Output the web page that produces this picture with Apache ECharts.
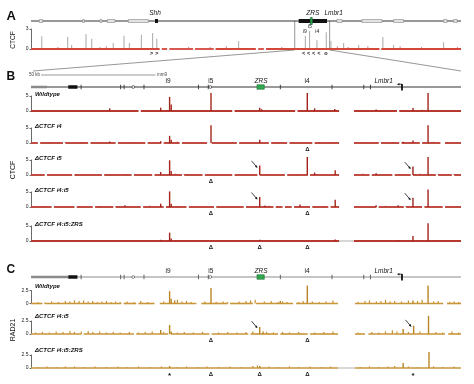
<!DOCTYPE html>
<html><head><meta charset="utf-8">
<script src="https://cdn.jsdelivr.net/npm/echarts@6.0.0/dist/echarts.min.js"></script>
<style>html,body{margin:0;padding:0;background:#fff;}#chart{width:474px;height:384px;}</style>
</head><body><div id="chart"></div>
<script>
// ================= DATA =================
// ---- Panel A : ~2.4 Mb region (kb) ----
const aRange = [0, 2400];
const aZoomWindow = [1472, 1667];
const aGeneBoxes = [[46,65],[288,298],[385,396],[426,469],[543,655],[1708,1736],[1847,1959],[2024,2080],[2303,2322],[2359,2378]];
const aShh = [[692,709]];
const aLocusBody = [[1494,1652]];
const aZrs = [[1559,1570]];
const aGeneLabels = [[692,'Shh'],[1573,'ZRS'],[1689,'Lmbr1']];
const aCtcfSegments = [[0,718],[730,760],[772,905],[915,1020],[1030,1255],[1268,1300],[1312,1945],[1955,2400]];
const aCtcfPeaks = [[60,1.9],[205,1.8],[227,0.6],[307,2.25],[339,1.55],[385,0.3],[459,0.9],[519,2.0],[549,0.9],[616,2.15],[679,2.4],[702,1.55],[1159,1.2],[1531,2.0],[1555,2.7],[1596,1.3],[1648,2.5],[1674,1.2],[1745,0.9],[1829,0.6],[1964,1.8],[2024,0.6],[2303,1.0]];
const aCtcfNoise = [[150,0.3],[420,0.4],[880,0.3],[1000,0.3],[1090,0.4],[1400,0.3],[1710,0.4],[1770,0.3],[1880,0.4],[2060,0.4],[2180,0.3],[2380,0.3]];
const aPeakLabels = [[1529,2.3,'i9'],[1556,3.05,'i5'],[1598,2.3,'i4']];
const aMotifs = [[673,'>'],[702,'>'],[1522,'<'],[1550,'<'],[1578,'<'],[1606,'<'],[1646,'o']];

// ---- Panels B / C : zoomed window (kb) ----
const bcRange = [0, 188];
const bGrayBody = [[0,7]];
const cGrayBody = [[0,16.2]];
const geneBlack = [[16.3,20.3]];
const geneTicks = [21.9,39.2,40.7,49.4,73.2,77.5,109.0,131.6,145.5,148.4];
const geneCircles = [44.7,78.4];
const zrsBox = [[98.8,102.0]];
const lmbr1Tss = [162.2];
const geneLabels = [[59.9,'i9'],[78.6,'i5'],[100.6,'ZRS'],[120.7,'i4'],[154.2,'Lmbr1']];
const scaleBar = [[4.4,54.4]]; // 50 kb

const ctcfTracks = ['Wildtype','\u0394CTCF i4','\u0394CTCF i5','\u0394CTCF i4:i5','\u0394CTCF i4:i5:ZRS'];
const ctcfPeaks = [
  [[34.4,0.9],[56.7,1.1],[60.6,4.7],[61.3,2.2],[78.7,6.0],[100.0,1.1],[100.8,0.6],[120.8,6.0],[124.0,0.9],[132.8,0.7],[150.9,0.5],[167.0,1.0],[173.6,6.0]],
  [[34.4,0.5],[56.7,0.6],[60.6,2.4],[61.3,1.1],[78.7,5.9],[100.0,1.1],[162.7,0.4],[167.0,0.8],[173.6,5.9]],
  [[56.7,1.0],[60.6,4.9],[61.3,1.3],[100.0,3.2],[120.8,6.0],[124.0,0.8],[133.0,1.6],[150.9,0.6],[167.0,2.8],[173.6,6.0]],
  [[41.1,0.6],[56.7,1.1],[60.6,5.2],[61.3,1.1],[100.0,3.3],[102.3,0.5],[117.6,0.8],[133.0,2.4],[150.9,0.6],[160.5,0.6],[167.0,3.1],[173.6,5.8]],
  [[56.7,0.4],[60.6,2.8],[61.3,0.8],[100.0,0.4],[133.0,0.5],[160.5,0.3],[167.0,1.7],[173.6,5.9]]
];
const ctcfNoise = [
  [[5,0.2],[12,0.3],[18,0.2],[24,0.3],[29,0.2],[38,0.3],[44,0.2],[50,0.3],[66,0.3],[70,0.2],[84,0.3],[90,0.2],[95,0.3],[106,0.2],[112,0.3],[128,0.2],[145,0.3],[156,0.2],[163,0.3],[171,0.4],[178,0.3],[184,0.2]],
  [[8,0.3],[15,0.2],[22,0.3],[27,0.2],[45,0.3],[52,0.2],[64,0.4],[69,0.2],[88,0.3],[96,0.2],[108,0.3],[115,0.2],[126,0.3],[131,0.3],[146,0.3],[152,0.2],[158,0.3],[176,0.4],[182,0.2]],
  [[4,0.3],[14,0.2],[20,0.3],[28,0.2],[34,0.3],[42,0.3],[48,0.2],[63,0.4],[67,0.3],[85,0.2],[92,0.3],[104,0.3],[110,0.2],[116,0.3],[128,0.2],[145,0.4],[155,0.3],[162,0.3],[170,0.4],[178,0.2],[185,0.3]],
  [[6,0.3],[13,0.2],[21,0.3],[30,0.3],[37,0.2],[47,0.3],[52,0.4],[64,0.3],[70,0.2],[88,0.2],[95,0.3],[104,0.4],[108,0.3],[124,0.2],[128,0.3],[146,0.2],[155,0.4],[164,0.3],[176,0.3],[184,0.2]],
  [[10,0.2],[24,0.2],[36,0.3],[50,0.2],[64,0.3],[80,0.2],[93,0.2],[110,0.2],[124,0.3],[150,0.2],[158,0.3],[178,0.2]]
];
const ctcfSegments = [
  [[0,47],[48,88],[89,115.5],[116.5,134.7],[141.2,160],[161,188]],
  [[0,3],[4,14],[15,25],[26,37],[38,50],[51,57],[58,65],[66,77],[79,90],[91,104],[105,112],[113,123],[124,134.7],[141.2,152],[153,161],[162,170],[171,179],[181,188]],
  [[0,6],[7,18],[19,31],[32,44],[45,53],[54,66],[67,75],[76,88],[89,99],[100,111],[112,121],[122,134.7],[141.2,148],[149,158],[159,166],[167,177],[178,184],[185,188]],
  [[0,9],[10,19],[20,27],[28,36],[37,48],[49,58],[59,68],[69,80],[81,93],[94,106],[107,110],[111,114],[115,122],[123,130],[131,134.7],[141.2,151],[152,163],[164,171],[172,180],[181,188]],
  [[0,134.7],[141.2,188]]
];
const ctcfGapFill = [[],[],[],[],[[134.7,141.2]]];
const ctcfDeleted = [[],[120.8],[78.7],[78.7,120.8],[78.7,100.0,120.8]];
const ctcfArrows = [[],[],[[100.0,3.2],[167.0,2.8]],[[100.0,3.3],[167.0,3.1]],[]];

const rad21Tracks = ['Wildtype','\u0394CTCF i4:i5','\u0394CTCF i4:i5:ZRS'];
const rad21Peaks = [
  [[60.6,2.37],[61.3,0.9],[62.8,0.6],[78.7,3.0],[109.0,0.5],[120.8,3.45],[167.0,0.6],[173.6,3.45]],
  [[56.7,0.77],[60.6,1.73],[61.3,0.5],[100.0,1.35],[101.5,0.5],[162.7,0.96],[167.3,1.6],[173.8,3.5]],
  [[60.6,0.4],[100.0,0.4],[162.7,0.96],[174.0,3.1]]
];
const rad21Noise = [
  [[3,0.3],[6,0.2],[9,0.4],[12,0.3],[15,0.5],[17,0.4],[19,0.6],[21,0.5],[23,0.6],[25,0.4],[27,0.5],[29,0.3],[31,0.4],[33,0.5],[35,0.3],[37,0.4],[39,0.3],[42,0.4],[45,0.3],[48,0.5],[51,0.3],[58,0.4],[64,0.7],[66,0.4],[68,0.5],[70,0.3],[76,0.4],[81,0.3],[84,0.4],[86,0.3],[91,0.4],[94,0.5],[96,0.6],[98,0.7],[102,0.4],[105,0.5],[108,0.3],[110,0.4],[112,0.3],[117,0.3],[119,0.5],[123,0.4],[126,0.3],[129,0.4],[132,0.6],[143,0.3],[146,0.5],[148,0.6],[151,0.4],[153,0.5],[155,0.7],[157,0.4],[159,0.5],[162,0.4],[165,0.6],[169,0.5],[171,0.7],[176,0.4],[178,0.5],[183,0.3],[185,0.4],[187,0.3]],
  [[2,0.3],[5,0.4],[8,0.3],[11,0.5],[14,0.4],[17,0.6],[19,0.4],[22,0.5],[25,0.6],[27,0.4],[30,0.5],[33,0.3],[36,0.4],[39,0.3],[43,0.4],[47,0.3],[50,0.4],[53,0.5],[58,0.4],[64,0.3],[67,0.4],[71,0.3],[75,0.4],[82,0.3],[86,0.4],[90,0.3],[94,0.4],[97,0.5],[103,0.4],[106,0.3],[110,0.4],[113,0.3],[117,0.4],[124,0.3],[128,0.4],[132,0.5],[143,0.3],[149,0.4],[152,0.3],[155,0.5],[158,0.7],[160,0.5],[165,0.4],[170,0.5],[177,0.4],[180,0.3],[184,0.5],[187,0.3]],
  [[3,0.2],[7,0.3],[11,0.2],[15,0.3],[19,0.3],[23,0.2],[28,0.3],[33,0.2],[38,0.3],[42,0.2],[47,0.3],[52,0.2],[57,0.3],[64,0.2],[68,0.3],[73,0.2],[77,0.3],[82,0.2],[87,0.3],[92,0.2],[97,0.4],[99,0.5],[104,0.3],[108,0.2],[113,0.3],[117,0.2],[122,0.3],[127,0.2],[131,0.3],[144,0.2],[148,0.3],[152,0.2],[156,0.3],[159,0.4],[165,0.3],[169,0.2],[176,0.3],[180,0.2],[185,0.3]]
];
const rad21Segments = [
  [[0,5],[6,39.5],[40.5,46],[47,54],[56.3,72.3],[74.5,86],[87,97],[98.4,114.6],[115.9,134.2],[141.7,180.2],[181.9,188]],
  [[0,22],[23,45],[46,60],[61,78],[79,95],[96,108],[109,121],[122,134.2],[141.7,146],[147.5,181],[182.4,188]],
  [[0,134.2],[141.7,188]]
];
const rad21GapFill = [[],[],[[134.2,141.7]]];
const rad21Deleted = [[],[78.7,120.8],[78.7,100.0,120.8]];
const rad21Stars = [[],[],[60.6,167.0]];
const rad21Arrows = [[],[[100.0,1.35],[167.3,1.6]],[]];

// ================= LAYOUT / STYLE =================
const FONT = '"Liberation Sans", Arial, sans-serif';
const LEFT = 31, WIDTH = 430;
const L = {
  aGeneLine: 21, aBase: 49, aH: 20,
  bGeneLine: 87, bBase: [111,143,175,207,241], bH: 15,
  cGeneLine: 277, cBase: [303.5,334,368], cH: 13
};
const COL = {
  ctcfPeak: '#a3241c', ctcfBase: '#b8392f', aBase: '#d4473b', aPeak: '#a8a8a8',
  radPeak: '#b98526', radBase: '#c99538', radNoise: '#c4912f', green: '#2fa84f'
};
const italicNames = ['Shh','ZRS','Lmbr1'];

const grids = [], xAxes = [], yAxes = [], series = [];
function addGrid(top, height, xr, ycfg) {
  const i = grids.length;
  grids.push({left: LEFT, width: WIDTH, top: top, height: height, outerBoundsMode: 'none', containLabel: false});
  xAxes.push({gridIndex: i, type: 'value', min: xr[0], max: xr[1], show: false});
  yAxes.push(Object.assign({gridIndex: i, type: 'value'}, ycfg));
  return i;
}
function geneGrid(lineY, xr) { return addGrid(lineY - 5, 10, xr, {min: -1, max: 1, show: false}); }
function trackGrid(base, h, max, xr) {
  return addGrid(base - h, h, xr, {
    min: 0, max: max, interval: max,
    axisLine: {show: true, lineStyle: {color: '#444', width: 0.8}},
    axisTick: {show: true, length: 1.5, lineStyle: {color: '#444', width: 0.8}},
    axisLabel: {fontSize: 5, margin: 2.5, color: '#222', fontFamily: FONT},
    splitLine: {show: false}
  });
}
function cs(gi, data, renderItem, z) {
  return {type: 'custom', xAxisIndex: gi, yAxisIndex: gi, data: data, renderItem: renderItem, clip: false, silent: true, z: z || 2, animation: false};
}
function segs(gi, data, h, fill, stroke, z) {
  return cs(gi, data, function (p, api) {
    const a = api.coord([api.value(0), 0]), b = api.coord([api.value(1), 0]);
    return {type: 'rect', shape: {x: a[0], y: a[1] - h / 2, width: Math.max(b[0] - a[0], 1), height: h},
      style: {fill: fill, stroke: stroke || null, lineWidth: stroke ? 0.6 : 0}};
  }, z);
}
function peaks(gi, data, color, w, z) {
  return cs(gi, data, function (p, api) {
    const a = api.coord([api.value(0), 0]), b = api.coord([api.value(0), api.value(1)]);
    return {type: 'rect', shape: {x: a[0] - w / 2, y: b[1], width: w, height: a[1] - b[1]}, style: {fill: color}};
  }, z);
}
function ticks(gi, xs, h, w, color) {
  return cs(gi, xs.map(function (x) { return [x, 0]; }), function (p, api) {
    const a = api.coord([api.value(0), 0]);
    return {type: 'rect', shape: {x: a[0] - w / 2, y: a[1] - h / 2, width: w, height: h}, style: {fill: color}};
  }, 3);
}
function circles(gi, xs, color) {
  return cs(gi, xs.map(function (x) { return [x, 0]; }), function (p, api) {
    const a = api.coord([api.value(0), 0]);
    return {type: 'circle', shape: {cx: a[0], cy: a[1], r: 1.4}, style: {fill: '#fff', stroke: color, lineWidth: 0.7}};
  }, 3);
}
// items: [x, y, text]; font may be a function of the text
function texts(gi, items, font, fill, dy, z) {
  return cs(gi, items.map(function (d) { return [d[0], d[1]]; }), function (p, api) {
    const it = items[p.dataIndex];
    const a = api.coord([api.value(0), api.value(1)]);
    const f = typeof font === 'function' ? font(it[2]) : font;
    return {type: 'text', x: a[0], y: a[1] + dy,
      style: {text: it[2], font: f, fill: fill, align: 'center', verticalAlign: 'middle', textAlign: 'center', textVerticalAlign: 'middle'}};
  }, z || 5);
}
function arrows(gi, items, dyEnd) {
  return cs(gi, items, function (p, api) {
    const a = api.coord([api.value(0), api.value(1)]);
    const ex = a[0] - 2.2, ey = a[1] + dyEnd, sx = ex - 6, sy = ey - 7;
    const len = Math.sqrt(36 + 49), ux = 6 / len, uy = 7 / len, px = -uy, py = ux;
    return {type: 'group', children: [
      {type: 'line', shape: {x1: sx, y1: sy, x2: ex - ux * 1.5, y2: ey - uy * 1.5}, style: {stroke: '#111', lineWidth: 0.8}},
      {type: 'polygon', shape: {points: [[ex, ey], [ex - ux * 2.6 + px * 1.2, ey - uy * 2.6 + py * 1.2], [ex - ux * 2.6 - px * 1.2, ey - uy * 2.6 - py * 1.2]]}, style: {fill: '#111'}}
    ]};
  }, 6);
}
function tss(gi, xs) {
  return cs(gi, xs.map(function (x) { return [x, 0]; }), function (p, api) {
    const a = api.coord([api.value(0), 0]);
    return {type: 'group', children: [
      {type: 'rect', shape: {x: a[0] - 0.9, y: a[1] - 3, width: 1.8, height: 6.5}, style: {fill: '#111'}},
      {type: 'line', shape: {x1: a[0], y1: a[1] - 2.8, x2: a[0] - 3, y2: a[1] - 2.8}, style: {stroke: '#111', lineWidth: 0.8}},
      {type: 'polygon', shape: {points: [[a[0] - 5, a[1] - 2.8], [a[0] - 2.6, a[1] - 4], [a[0] - 2.6, a[1] - 1.6]]}, style: {fill: '#111'}}
    ]};
  }, 4);
}
function scale(gi, data) {
  return cs(gi, data, function (p, api) {
    const a = api.coord([api.value(0), 0]), b = api.coord([api.value(1), 0]);
    const y = a[1] - 12;
    const f = '4.5px ' + FONT;
    return {type: 'group', children: [
      {type: 'line', shape: {x1: a[0], y1: y, x2: b[0], y2: y}, style: {stroke: '#555', lineWidth: 0.6}},
      {type: 'text', x: a[0] - 1, y: y, style: {text: '50 kb', font: f, fill: '#444', align: 'right', verticalAlign: 'middle', textAlign: 'right', textVerticalAlign: 'middle'}},
      {type: 'text', x: b[0] + 1.5, y: y, style: {text: 'mm9', font: f, fill: '#444', align: 'left', verticalAlign: 'middle', textAlign: 'left', textVerticalAlign: 'middle'}}
    ]};
  }, 4);
}

function geneFont(t) { return (italicNames.indexOf(t) >= 0 ? 'italic ' : '') + '6.5px ' + FONT; }

// ---- Panel A ----
const gAg = geneGrid(L.aGeneLine, aRange);
series.push(segs(gAg, [[aRange[0], aRange[1]]], 1, '#333', null, 1));
series.push(segs(gAg, aGeneBoxes, 3, '#e2e2e2', '#888', 2));
series.push(segs(gAg, aLocusBody, 4, '#111', null, 3));
series.push(segs(gAg, aShh, 4, '#111', null, 3));
series.push(segs(gAg, aZrs, 7, COL.green, '#1f6b33', 4));
series.push(texts(gAg, aGeneLabels.map(function (d) { return [d[0], 0, d[1]]; }), geneFont, '#111', -7.5));

const gAt = trackGrid(L.aBase, L.aH, 3, aRange);
series.push(peaks(gAt, aCtcfPeaks, COL.aPeak, 1, 2));
series.push(peaks(gAt, aCtcfNoise, '#c98a84', 1, 2));
series.push(segs(gAt, aCtcfSegments, 1.8, COL.aBase, null, 3));
series.push(texts(gAt, aPeakLabels, '5px ' + FONT, '#222', -2.5));
series.push(texts(gAt, aMotifs.map(function (d) { return [d[0], 0, d[1]]; }), 'bold 5.5px ' + FONT, '#111', 4.5));

// ---- Panel B ----
const gBg = geneGrid(L.bGeneLine, bcRange);
series.push(segs(gBg, [[bcRange[0], bcRange[1]]], 1, '#333', null, 1));
series.push(segs(gBg, bGrayBody, 2.5, '#8a8a8a', null, 2));
series.push(segs(gBg, geneBlack, 3.5, '#111', null, 2));
series.push(ticks(gBg, geneTicks, 4.5, 0.9, '#333'));
series.push(circles(gBg, geneCircles, '#333'));
series.push(segs(gBg, zrsBox, 4.5, COL.green, '#1f6b33', 4));
series.push(tss(gBg, lmbr1Tss));
series.push(texts(gBg, geneLabels.map(function (d) { return [d[0], 0, d[1]]; }), geneFont, '#111', -5.5));
series.push(scale(gBg, scaleBar));

ctcfTracks.forEach(function (name, t) {
  const gi = trackGrid(L.bBase[t], L.bH, 5, bcRange);
  series.push(segs(gi, ctcfGapFill[t], 1.2, '#bdbdbd', null, 2));
  series.push(peaks(gi, ctcfNoise[t], COL.ctcfBase, 1.2, 2));
  series.push(segs(gi, ctcfSegments[t], 1.8, COL.ctcfBase, null, 3));
  series.push(peaks(gi, ctcfPeaks[t], COL.ctcfPeak, 1.4, 4));
  series.push(texts(gi, ctcfDeleted[t].map(function (x) { return [x, 0, '\u0394']; }), 'bold 6px ' + FONT, '#111', 6.8));
  series.push(arrows(gi, ctcfArrows[t], 2.5));
});

// ---- Panel C ----
const gCg = geneGrid(L.cGeneLine, bcRange);
series.push(segs(gCg, [[bcRange[0], bcRange[1]]], 1, '#8c8c8c', null, 1));
series.push(segs(gCg, cGrayBody, 2.5, '#8c8c8c', null, 2));
series.push(segs(gCg, geneBlack, 3.5, '#111', null, 2));
series.push(ticks(gCg, geneTicks, 4.5, 0.9, '#555'));
series.push(circles(gCg, geneCircles, '#555'));
series.push(segs(gCg, zrsBox, 4.5, COL.green, '#1f6b33', 4));
series.push(tss(gCg, lmbr1Tss));
series.push(texts(gCg, geneLabels.map(function (d) { return [d[0], 0, d[1]]; }), geneFont, '#111', -5.5));

rad21Tracks.forEach(function (name, t) {
  const gi = trackGrid(L.cBase[t], L.cH, 2.5, bcRange);
  series.push(segs(gi, rad21GapFill[t], 1.2, '#bdbdbd', null, 2));
  series.push(peaks(gi, rad21Noise[t], COL.radNoise, 1.2, 2));
  series.push(segs(gi, rad21Segments[t], 1.6, COL.radBase, null, 3));
  series.push(peaks(gi, rad21Peaks[t], COL.radPeak, 1.4, 4));
  series.push(texts(gi, rad21Deleted[t].map(function (x) { return [x, 0, '\u0394']; }), 'bold 6px ' + FONT, '#111', 6.5));
  series.push(texts(gi, rad21Stars[t].map(function (x) { return [x, 0, '*']; }), 'bold 8px ' + FONT, '#111', 8));
  series.push(arrows(gi, rad21Arrows[t], 1.2));
});

// ---- static text ----
function gtext(x, y, text, font, align, rot) {
  return {type: 'text', x: x, y: y, rotation: rot || 0, silent: true, z: 10,
    style: {text: text, font: font, fill: '#111', align: align || 'left', verticalAlign: 'middle', textAlign: align || 'left', textVerticalAlign: 'middle'}};
}
const graphics = [
  gtext(6.5, 16, 'A', 'bold 13px ' + FONT),
  gtext(6.5, 77, 'B', 'bold 12px ' + FONT),
  gtext(6.5, 270, 'C', 'bold 12px ' + FONT),
  gtext(13.5, 40, 'CTCF', '6.5px ' + FONT, 'center', Math.PI / 2),
  gtext(13.5, 170, 'CTCF', '7px ' + FONT, 'center', Math.PI / 2),
  gtext(13.5, 330, 'RAD21', '7px ' + FONT, 'center', Math.PI / 2)
];
ctcfTracks.forEach(function (n, t) { graphics.push(gtext(35, L.bBase[t] - 17, n, 'italic bold 6px ' + FONT)); });
rad21Tracks.forEach(function (n, t) { graphics.push(gtext(35, L.cBase[t] - 17.5, n, 'italic bold 6px ' + FONT)); });

const chart = echarts.init(document.getElementById('chart'), null, {renderer: 'canvas'});
chart.setOption({
  animation: false, backgroundColor: '#fff',
  grid: grids, xAxis: xAxes, yAxis: yAxes, series: series, graphic: graphics
});

// zoom connector lines (from panel A window to panel B extent)
const pL = chart.convertToPixel({gridIndex: gAt}, [aZoomWindow[0], 0]);
const pR = chart.convertToPixel({gridIndex: gAt}, [aZoomWindow[1], 0]);
const gTop = chart.convertToPixel({gridIndex: gAg}, [aZoomWindow[0], 0]);
const bL = chart.convertToPixel({gridIndex: gBg}, [bcRange[0], 0]);
const bR = chart.convertToPixel({gridIndex: gBg}, [bcRange[1], 0]);
const yB = L.bGeneLine - 16;
const ls = {stroke: '#6a6a6a', lineWidth: 0.7};
graphics.push(
  {type: 'line', silent: true, z: 1, shape: {x1: pL[0], y1: gTop[1], x2: pL[0], y2: pL[1] + 1}, style: ls},
  {type: 'line', silent: true, z: 1, shape: {x1: pR[0], y1: gTop[1], x2: pR[0], y2: pR[1] + 1}, style: ls},
  {type: 'line', silent: true, z: 1, shape: {x1: pL[0], y1: pL[1] + 1, x2: bL[0] + 2, y2: yB}, style: ls},
  {type: 'line', silent: true, z: 1, shape: {x1: pR[0], y1: pR[1] + 1, x2: bR[0], y2: yB}, style: ls}
);
chart.setOption({graphic: graphics});
</script>
</body></html>
